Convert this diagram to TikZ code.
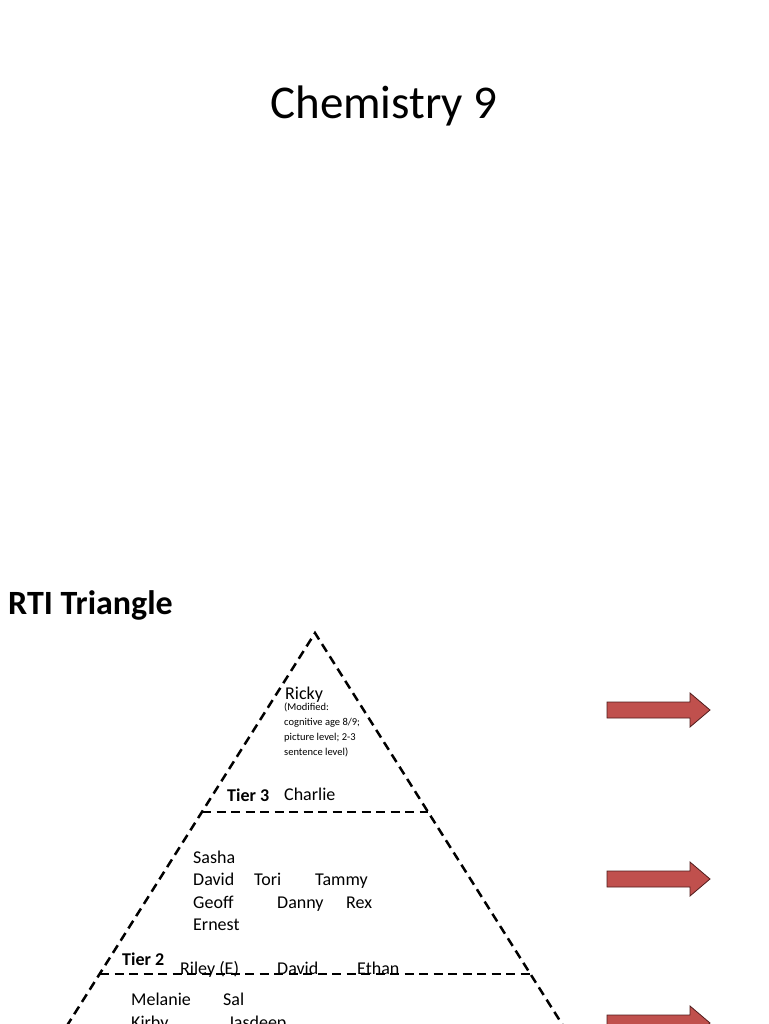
\documentclass[tikz,border=0pt]{standalone}
\usepackage{fontspec}
\setmainfont{Carlito}
\definecolor{arrowred}{RGB}{192,80,77}
\definecolor{arrowedge}{RGB}{80,28,28}
\begin{document}
\begin{tikzpicture}[x=1pt,y=-1pt,
  txt/.style={anchor=base west,inner sep=0pt,font=\fontsize{18}{18}\selectfont},
  bold/.style={txt,font=\fontsize{18}{18}\selectfont\bfseries},
  small/.style={anchor=north west,inner sep=0pt,align=left,font=\fontsize{10.5}{15}\selectfont},
  dashline/.style={line width=2.5pt,dash pattern=on 9pt off 5.5pt},
  redarrow/.style={fill=arrowred,draw=arrowedge,line width=0.8pt,line join=miter}]
\useasboundingbox (0,0) rectangle (768,1024);
\clip (0,0) rectangle (768,1024);
% titles
\node[anchor=base,inner sep=0pt,font=\fontsize{47}{47}\selectfont] (title) at (384,119) {Chemistry 9};
\node[anchor=base west,inner sep=0pt,font=\fontsize{34}{34}\selectfont\bfseries] (rti) at (8,614) {RTI Triangle};
% triangle
\coordinate (apex) at (315,633);
\coordinate (bl) at (20,1100);
\coordinate (br) at (610,1100);
\coordinate (t3l) at (202,812);
\coordinate (t3r) at (428,812);
\coordinate (t2l) at (100,974);
\coordinate (t2r) at (530,974);
\draw[dashline] (bl) -- (apex) -- (br);
\draw[dashline] (t3l) -- (t3r);
\draw[dashline] (t2l) -- (t2r);
% tier 3
\node[txt] (ricky) at (285,699) {Ricky};
\node[small] (mod) at (284,703) {(Modified:\\cognitive age 8/9;\\picture level; 2-3\\sentence level)};
\node[bold] (tier3) at (227,801) {Tier 3};
\node[txt] (charlie) at (284,800) {Charlie};
% tier 2
\node[txt] (sasha) at (193,863) {Sasha};
\node[txt] (david1) at (193,885) {David};
\node[txt] (tori) at (254,885) {Tori};
\node[txt] (tammy) at (315,885) {Tammy};
\node[txt] (geoff) at (193,908) {Geoff};
\node[txt] (danny) at (277,908) {Danny};
\node[txt] (rex) at (346,908) {Rex};
\node[txt] (ernest) at (193,930) {Ernest};
\node[bold] (tier2) at (122,965) {Tier 2};
\node[txt] (riley) at (180,974) {Riley (E)};
\node[txt] (david2) at (277,974) {David};
\node[txt] (ethan) at (357,974) {Ethan};
% tier 1
\node[txt] (melanie) at (131,1005) {Melanie};
\node[txt] (sal) at (223,1005) {Sal};
\node[txt] (kirby) at (131,1028) {Kirby};
\node[txt] (jasdeep) at (228,1028) {Jasdeep};
% arrows
\foreach \n/\yc in {a1/710,a2/879,a3/1023}{
  \coordinate (\n) at (607,\yc);
  \draw[redarrow] ([yshift=8pt]\n) -- ++(83,0) -- ++(0,-9) -- ++(20,17) -- ++(-20,17) -- ++(0,-9) -- ++(-83,0) -- cycle;
}
\end{tikzpicture}
\end{document}
